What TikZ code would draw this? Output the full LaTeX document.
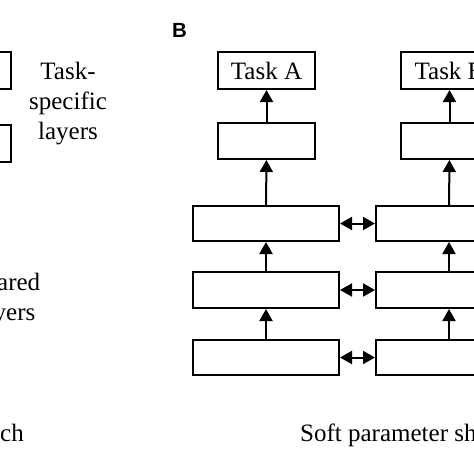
\documentclass[tikz,border=0pt]{standalone}
\usepackage{fontspec}
\setmainfont{Liberation Serif}
\newfontfamily\panelfont{Liberation Sans}
\usetikzlibrary{arrows.meta}
\tikzstyle{layer} = [rectangle, minimum width=97pt, minimum height=37pt, inner sep=0pt, text centered, draw=black, line width=2pt, font=\fontsize{25}{30}\selectfont]
\tikzstyle{shared} = [layer, minimum width=146pt, minimum height=35pt]
\tikzstyle{caption} = [font=\fontsize{25}{30}\selectfont, inner sep=0pt]
\tikzstyle{arrow} = [line width=2pt, -{Triangle[width=13pt,length=12pt]}]
\tikzstyle{link} = [line width=2pt, {Triangle[width=13pt,length=12pt]}-{Triangle[width=13pt,length=12pt]}]

\begin{document}
\begin{tikzpicture}[x=1pt, y=-1pt, node distance=183pt]
        \useasboundingbox (0,0) rectangle (474,474);
        \clip (0,0) rectangle (474,474);

        % panel A, cut at the left edge
        \node (specA1) [layer] at (-38,70.5) {};
        \node (specA2) [layer] at (-38,143.5) {};
        \node (speclabel) [caption, align=center] at (68,104) {Task-\\specific\\layers};
        \node (sharedlabel) [caption, align=center] at (5.5,300) {Shared\\layers};
        \node (captionA) [caption, anchor=base east] at (24,441) {ch};

        % panel B
        \node (panelB) [font=\panelfont\bfseries\fontsize{20.5}{20.5}\selectfont, anchor=base west, inner sep=0pt] at (172,37) {B};
        \node (taskA) [layer] at (266.5,70.5) {Task A};
        \node (taskB) [layer, right of=taskA] {Task B};
        \node (midA) [layer, minimum height=36pt] at (266.5,141) {};
        \node (midB) [layer, minimum height=36pt, right of=midA] {};
        \node (sharedA1) [shared] at (266,223.5) {};
        \node (sharedB1) [shared, right of=sharedA1] {};
        \node (sharedA2) [shared, minimum height=36pt] at (266,290) {};
        \node (sharedB2) [shared, minimum height=36pt, right of=sharedA2] {};
        \node (sharedA3) [shared] at (266,357.5) {};
        \node (sharedB3) [shared, right of=sharedA3] {};

        \draw [arrow] (midA) -- (taskA);
        \draw [arrow] (midB) -- (taskB);
        \draw [arrow] (sharedA1) -- (midA);
        \draw [arrow] (sharedB1) -- (midB);
        \draw [arrow] (sharedA2) -- (sharedA1);
        \draw [arrow] (sharedB2) -- (sharedB1);
        \draw [arrow] (sharedA3) -- (sharedA2);
        \draw [arrow] (sharedB3) -- (sharedB2);

        \draw [link] (sharedA1) -- (sharedB1);
        \draw [link] (sharedA2) -- (sharedB2);
        \draw [link] (sharedA3) -- (sharedB3);

        \node (captionB) [caption, anchor=base west] at (300,441) {Soft parameter sharing};

        \end{tikzpicture}
\end{document}
